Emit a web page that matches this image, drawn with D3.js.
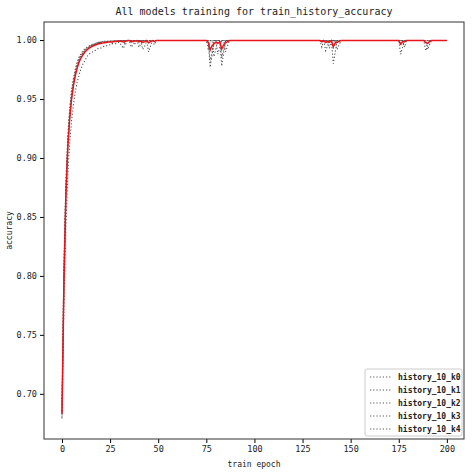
<!DOCTYPE html>
<html>
<head>
<meta charset="utf-8">
<script src="https://cdn.jsdelivr.net/npm/d3@7"></script>
<style>
  body { margin: 0; background: #fff; }
  text { font-family: "DejaVu Sans Mono", monospace; fill: #222; }
</style>
</head>
<body>
<svg id="chart" width="474" height="472"></svg>
<script>
// rise phase per series, epochs 0..30
const riseK0 = [0.680,0.800,0.872,0.912,0.937,0.954,0.965,0.973,0.979,0.984,0.987,0.989,0.991,0.993,0.994,0.995,0.996,0.9965,0.997,0.9975,0.998,0.998,0.9985,0.9985,0.999,0.999,0.999,0.999,0.9992,0.9992,0.9993];
const riseK1 = [0.685,0.805,0.876,0.916,0.940,0.956,0.967,0.975,0.981,0.985,0.988,0.990,0.992,0.993,0.994,0.995,0.996,0.997,0.9975,0.998,0.998,0.9985,0.9985,0.999,0.999,0.999,0.9992,0.9992,0.9993,0.9993,0.9994];
const riseK2 = [0.679,0.770,0.840,0.885,0.913,0.932,0.946,0.957,0.965,0.971,0.976,0.980,0.983,0.986,0.988,0.989,0.990,0.991,0.992,0.993,0.993,0.994,0.995,0.995,0.996,0.996,0.997,0.997,0.997,0.998,0.998];
const riseK3 = [0.690,0.808,0.878,0.918,0.942,0.958,0.968,0.976,0.982,0.986,0.989,0.991,0.993,0.994,0.995,0.996,0.9965,0.997,0.9975,0.998,0.998,0.9985,0.999,0.999,0.999,0.9992,0.9992,0.9993,0.9993,0.9994,0.9994];
const riseK4 = [0.683,0.795,0.866,0.908,0.934,0.951,0.963,0.971,0.978,0.983,0.986,0.989,0.991,0.992,0.994,0.995,0.996,0.996,0.997,0.9975,0.998,0.998,0.998,0.9985,0.999,0.999,0.999,0.999,0.9992,0.9992,0.9993];
const plateau = 0.9996;
// dips after the rise: [epoch, value]
const dipsK0 = [[33,0.996],[38,0.997],[77,0.982],[78,0.990],[83,0.985],[84,0.992],[141,0.993],[176,0.996]];
const dipsK1 = [[36,0.994],[37,0.996],[45,0.990],[46,0.995],[79,0.986],[80,0.993],[137,0.991],[138,0.995],[190,0.992],[191,0.996]];
const dipsK2 = [[31,0.995],[32,0.993],[42,0.992],[43,0.995],[77,0.977],[78,0.987],[83,0.978],[84,0.989],[141,0.980],[142,0.990],[176,0.988],[177,0.994]];
const dipsK3 = [[40,0.994],[41,0.997],[81,0.988],[82,0.994],[135,0.994],[143,0.992],[144,0.996],[178,0.994]];
const dipsK4 = [[26,0.997],[48,0.996],[76,0.992],[85,0.990],[86,0.995],[139,0.993],[189,0.991],[190,0.995]];
const seriesNames = ["history_10_k0","history_10_k1","history_10_k2","history_10_k3","history_10_k4"];
const xTicks = [0,25,50,75,100,125,150,175,200];
const yTicks = [0.70,0.75,0.80,0.85,0.90,0.95,1.00];
const nEpochs = 201;

function build(rise, dips) {
  const v = [];
  for (let i = 0; i < nEpochs; i++) v.push(i < rise.length ? rise[i] : plateau);
  dips.forEach(([e, val]) => { v[e] = val; });
  return v;
}
const series = [build(riseK0, dipsK0), build(riseK1, dipsK1), build(riseK2, dipsK2),
                build(riseK3, dipsK3), build(riseK4, dipsK4)];
const mean = d3.range(nEpochs).map(i => d3.mean(series, s => s[i]));

const svg = d3.select("#chart");
const m = {left: 44, right: 464, top: 22, bottom: 439};
const x = d3.scaleLinear().domain([-9.35, 208.9]).range([m.left, m.right]);
const y = d3.scaleLinear().domain([0.6617, 1.0153]).range([m.bottom, m.top]);

const line = d3.line().x((d, i) => x(i)).y(d => y(d));

svg.append("g").attr("transform", `translate(0,${m.bottom})`)
  .call(d3.axisBottom(x).tickValues(xTicks).tickSize(4).tickFormat(d3.format("d")))
  .call(g => g.select(".domain").remove())
  .selectAll("text").style("font-size", "8.5px").attr("fill", "#222");
svg.append("g").attr("transform", `translate(${m.left},0)`)
  .call(d3.axisLeft(y).tickValues(yTicks).tickSize(4).tickFormat(d3.format(".2f")))
  .call(g => g.select(".domain").remove())
  .selectAll("text").style("font-size", "8.5px").attr("fill", "#222");

series.forEach(s => {
  svg.append("path").datum(s).attr("d", line)
    .attr("fill", "none").attr("stroke", "#555").attr("stroke-width", 1.1)
    .attr("stroke-dasharray", "1.2,2");
});
svg.append("path").datum(mean).attr("d", line)
  .attr("fill", "none").attr("stroke", "#e8141a").attr("stroke-width", 1.5);

svg.append("rect").attr("x", m.left).attr("y", m.top)
  .attr("width", m.right - m.left).attr("height", m.bottom - m.top)
  .attr("fill", "none").attr("stroke", "#333").attr("stroke-width", 1);

svg.append("text").attr("x", (m.left + m.right) / 2).attr("y", 15)
  .attr("text-anchor", "middle").style("font-size", "10px").text("All models training for train_history_accuracy");
svg.append("text").attr("x", (m.left + m.right) / 2).attr("y", 467)
  .attr("text-anchor", "middle").style("font-size", "8px").text("train epoch");
svg.append("text").attr("transform", `translate(12,${(m.top + m.bottom) / 2}) rotate(-90)`)
  .attr("text-anchor", "middle").style("font-size", "8px").text("accuracy");

const lg = svg.append("g").attr("transform", "translate(365,369)");
lg.append("rect").attr("width", 97).attr("height", 67).attr("rx", 2)
  .attr("fill", "#fff").attr("fill-opacity", 0.85).attr("stroke", "#ccc");
seriesNames.forEach((n, i) => {
  const yy = 8 + i * 13;
  lg.append("line").attr("x1", 5).attr("x2", 26).attr("y1", yy).attr("y2", yy)
    .attr("stroke", "#555").attr("stroke-width", 1).attr("stroke-dasharray", "1.2,2");
  lg.append("text").attr("x", 33).attr("y", yy + 3).style("font-size", "8px")
    .style("font-weight", "bold").text(n);
});
</script>
</body>
</html>
